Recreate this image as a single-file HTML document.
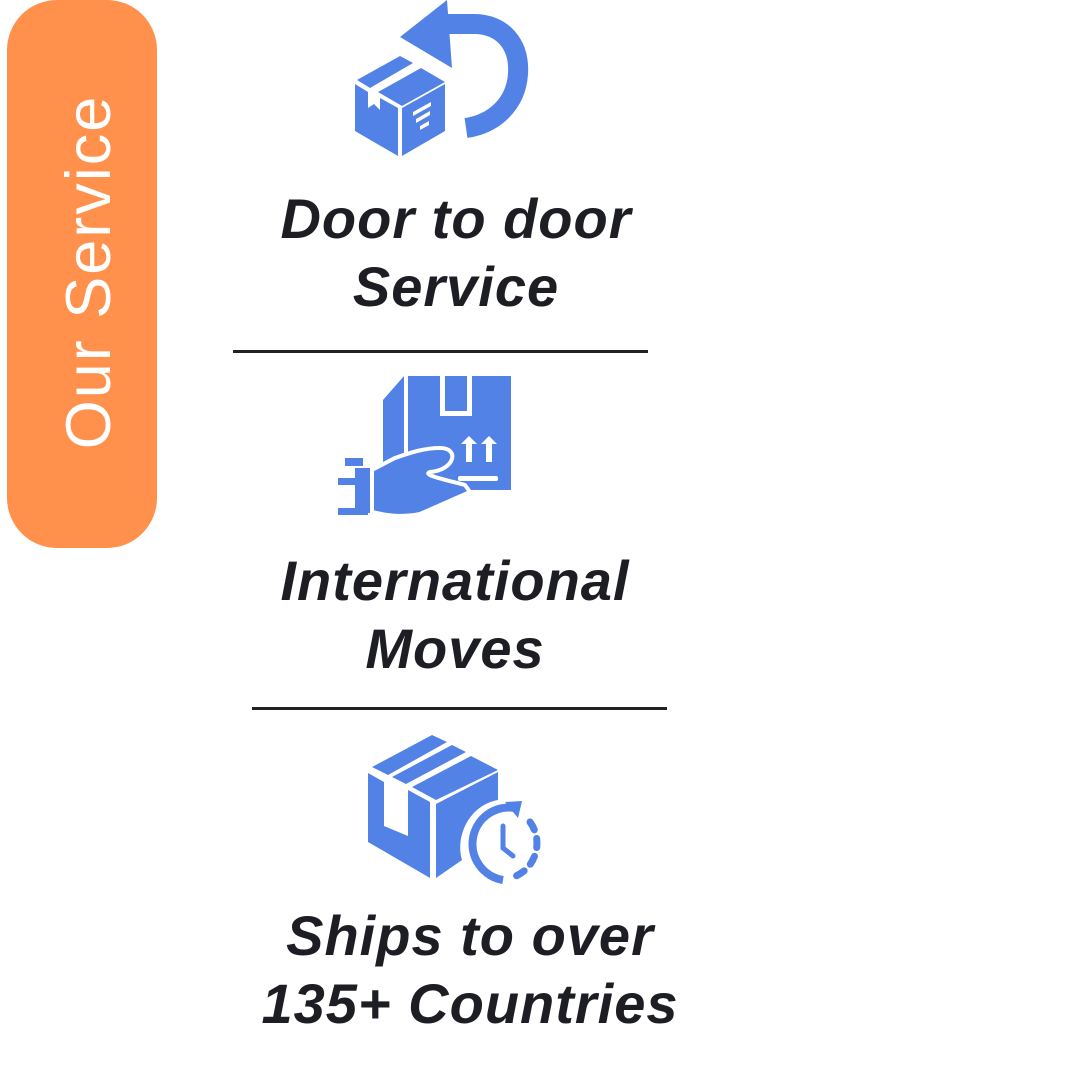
<!DOCTYPE html>
<html><head><meta charset="utf-8"><style>
body{margin:0;width:1080px;height:1080px;background:#fff;position:relative;overflow:hidden;font-family:"Liberation Sans",sans-serif}
.tag{position:absolute;left:7px;top:0;width:150px;height:548px;background:#FF914D;border-radius:50px}
.tagt{position:absolute;left:82px;top:272px;transform:translate(-50%,-50%) rotate(-90deg);color:#fff;font-size:63px;white-space:nowrap;font-weight:normal;letter-spacing:2px}
.t{position:absolute;width:600px;text-align:center;font-weight:bold;font-style:italic;font-size:56px;color:#1d1d24;line-height:68px;letter-spacing:1px}
.hr{position:absolute;height:3px;background:#222}
svg{position:absolute;left:0;top:0}
</style></head><body>
<div class="tag"><div class="tagt">Our Service</div></div>
<svg width="1080" height="1080" fill="#5282E6">
<!-- icon1 -->
<polygon points="357,80 400,56 413,63 370,88"/>
<polygon points="378,92 421,68 445,82 402,106"/>
<polygon points="355,84 368,92 368,108 374,104 380,110 380,98 398,108 398,156 355,131"/>
<polygon points="402,108 445,84 445,131 402,156"/>
<g fill="#fff"><polygon points="413,112 431,102 431,106 413,116"/><polygon points="416,119 430,111 430,115 416,123"/><polygon points="420,126 429,121 429,125 420,130"/></g>
<polygon points="400,37 447,0 452,68"/>
<path d="M448,24 L474,24 C502,24 520,44 518,74 C516,104 494,124 466,128" fill="none" stroke="#5282E6" stroke-width="20"/>
<!-- icon2 -->
<rect x="408" y="376" width="103" height="114"/>
<polygon points="383,400 404,376 404,460 383,470"/>
<rect x="440" y="376" width="32" height="40" fill="#fff"/>
<rect x="445" y="376" width="22" height="35" fill="#5282E6"/>
<rect x="458" y="476" width="40" height="5" rx="2" fill="#fff"/>
<g fill="#fff"><path d="M466,462v-18h-5l8,-8 8,8h-5v18z"/><path d="M486,462v-18h-5l8,-8 8,8h-5v18z"/></g>
<path d="M372,470 L395,458 C412,452 425,448 440,448 C460,448 455,470 430,472 C420,475 455,482 465,485 L470,492 L420,514 C400,518 385,515 372,512 Z" stroke="#fff" stroke-width="4"/>
<rect x="345" y="458" width="18" height="8"/><rect x="338" y="478" width="18" height="7"/><rect x="355" y="468" width="15" height="45"/><rect x="338" y="508" width="30" height="7"/>
<!-- icon3 -->
<polygon points="372,767 432,735 447,742 388,775"/>
<polygon points="392,777 452,745 466,752 406,784"/>
<polygon points="412,787 471,756 498,770 436,800"/>
<polygon points="368,773 384,782 384,826 408,836 408,790 430,802 430,878 368,842"/>
<path d="M436,804 L498,772 L498,800 C470,805 455,835 462,860 L436,878 Z"/>
<path d="M515,808 A36,36 0 1 0 503,880" fill="none" stroke="#5282E6" stroke-width="8"/>
<path d="M505,802 L522,801 L518,818 Z"/>
<path d="M503,826 V848 L513,856" fill="none" stroke="#5282E6" stroke-width="5" stroke-linecap="round"/>
<path d="M530,822 A36,36 0 0 1 516,876" fill="none" stroke="#5282E6" stroke-width="7" stroke-dasharray="9 9" stroke-linecap="round"/>
</svg>
<div class="t" style="left:156px;top:185px">Door to door<br>Service</div>
<div class="hr" style="left:233px;top:350px;width:415px"></div>
<div class="t" style="left:155px;top:547px">International<br>Moves</div>
<div class="hr" style="left:252px;top:707px;width:415px"></div>
<div class="t" style="left:170px;top:902px">Ships to over<br>135+ Countries</div>
</body></html>
